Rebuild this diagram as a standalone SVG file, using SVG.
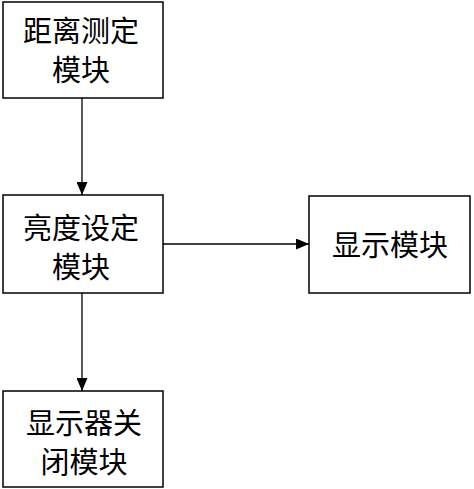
<svg xmlns="http://www.w3.org/2000/svg" width="474" height="489" viewBox="0 0 474 489">
<style>
.box{fill:#fff;stroke:#000;stroke-width:1.5}
.t{font-family:"Noto Sans CJK SC","Noto Sans",sans-serif;font-size:29px;fill:#000;text-anchor:middle;dominant-baseline:central}
.c{stroke:#000;stroke-width:1.3;fill:none}
</style>
<defs>
<marker id="ah" viewBox="0 0 13 11" refX="13" refY="5.5" markerWidth="13" markerHeight="11" markerUnits="userSpaceOnUse" orient="auto">
<path d="M0,0L13,5.5L0,11z" fill="#000"/>
</marker>
</defs>
<rect width="474" height="489" fill="#fff"/>
<g id="connectors">
<line class="c" x1="82" y1="98" x2="82" y2="195" marker-end="url(#ah)"/>
<line class="c" x1="163" y1="244" x2="309" y2="244" marker-end="url(#ah)"/>
<line class="c" x1="82" y1="293" x2="82" y2="391" marker-end="url(#ah)"/>
</g>
<g id="n1">
<rect class="box" x="3" y="2" width="160" height="96"/>
<text class="t" x="81" y="29">距离测定</text>
<text class="t" x="81" y="68">模块</text>
</g>
<g id="n2">
<rect class="box" x="3" y="195" width="160" height="98"/>
<text class="t" x="81" y="226">亮度设定</text>
<text class="t" x="81" y="265">模块</text>
</g>
<g id="n3">
<rect class="box" x="309" y="196" width="161" height="97"/>
<text class="t" x="390" y="243">显示模块</text>
</g>
<g id="n4">
<rect class="box" x="3" y="391" width="160" height="96"/>
<text class="t" x="84" y="421">显示器关</text>
<text class="t" x="84" y="460">闭模块</text>
</g>
</svg>
